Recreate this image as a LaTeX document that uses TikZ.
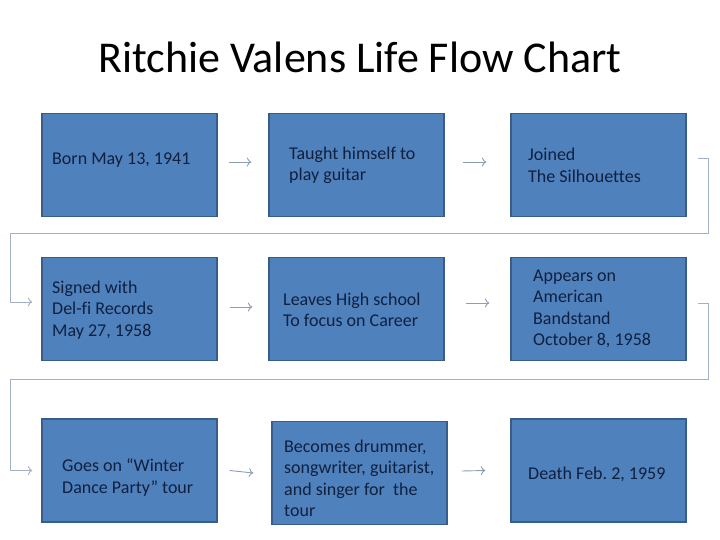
\documentclass[tikz,border=0pt]{standalone}
\usepackage{fontspec}
\setmainfont{Carlito}[Ligatures=NoCommon]
\usetikzlibrary{arrows.meta}
\frenchspacing
\definecolor{boxfill}{HTML}{4F81BD}
\definecolor{boxline}{HTML}{385D8A}
\definecolor{boxtext}{HTML}{10203F}
\definecolor{linkgray}{HTML}{8C9DB8}
\tikzset{
  box/.style={draw=boxline,line width=1.3pt,fill=boxfill,minimum width=175pt,minimum height=103pt,inner sep=0pt},
  txt/.style={anchor=west,align=left,text=boxtext,font=\fontsize{18}{21.5}\selectfont,inner sep=0pt},
  arr/.style={-{To[length=4.5pt,width=9pt]},draw=linkgray,line width=0.9pt},
  link/.style={-{To[length=4.5pt,width=9pt]},draw=linkgray!80,line width=0.9pt}
}
\begin{document}
\begin{tikzpicture}[x=1pt,y=-1pt]
  \useasboundingbox (0,0) rectangle (720,540);
  \node[font=\fontsize{44}{52}\selectfont,anchor=base] (title) at (360,73) {Ritchie Valens Life Flow Chart};

  % boxes
  \node[box] (b1) at (129.5,165) {};
  \node[box] (b2) at (356.5,165) {};
  \node[box] (b3) at (598.5,165) {};
  \node[box] (b4) at (129.5,309) {};
  \node[box] (b5) at (356.5,309) {};
  \node[box] (b6) at (598.5,309) {};
  \node[box] (b7) at (129.5,470.5) {};
  \node[box] (b8) at (359.5,473) {};
  \node[box] (b9) at (598.5,470.5) {};

  % texts
  \node[txt] (t1) at (52,160) {Born May 13, 1941};
  \node[txt] (t2) at (289,165.5) {Taught himself to\\play guitar};
  \node[txt] (t3) at (528,165.5) {Joined\\The Silhouettes};
  \node[txt] (t4) at (52,310) {Signed with\\Del-fi Records\\May 27, 1958};
  \node[txt] (t5) at (283,310) {Leaves High school\\To focus on Career};
  \node[txt] (t6) at (533,309) {Appears on\\American\\Bandstand\\October 8, 1958};
  \node[txt] (t7) at (62,477.5) {Goes on “Winter\\Dance Party” tour};
  \node[txt] (t8) at (284,478.5) {Becomes drummer,\\songwriter, guitarist,\\and singer for~ the\\tour};
  \node[txt] (t9) at (528,474) {Death Feb. 2, 1959};

  % arrows between boxes
  \draw[arr] ([shift={(11,-3)}]b1.east) -- ([shift={(-17,-3)}]b2.west);
  \draw[arr] ([shift={(18,-3)}]b2.east) -- ([shift={(-24,-3)}]b3.west);
  \draw[arr] ([shift={(12,-2)}]b4.east) -- ([shift={(-16,-2)}]b5.west);
  \draw[arr] ([shift={(21,-6)}]b5.east) -- ([shift={(-21,-6)}]b6.west);
  \draw[arr] ([shift={(12,0)}]b7.east) -- ([shift={(-18,0)}]b8.west);
  \draw[arr] ([shift={(14,-2)}]b8.east) -- ([shift={(-25,0)}]b9.west);

  % row changes
  \coordinate (r1) at (708,158);
  \coordinate (r2) at (10,233);
  \coordinate (r3) at (708,303);
  \coordinate (r4) at (10,379);
  \draw[link] ([shift={(11,-7)}]b3.east) -- (r1) |- (r2) |- ([shift={(-9,-7)}]b4.west);
  \draw[link] ([shift={(11,-6)}]b6.east) -- (r3) |- (r4) |- ([xshift=-9]b7.west);
\end{tikzpicture}
\end{document}
